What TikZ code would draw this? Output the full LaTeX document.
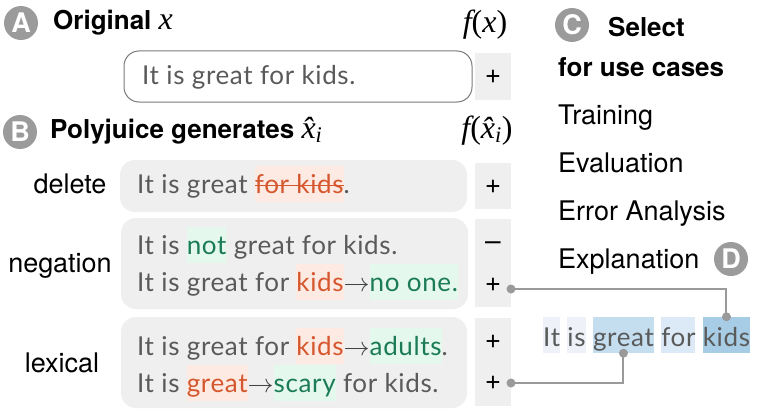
\RequirePackage{fix-cm}
\documentclass[tikz,border=0pt]{standalone}
\usepackage{fontspec}
\setmainfont{TeX Gyre Heros}
\newfontfamily\sentfont{Lato}[LetterSpace=2.5]
\newfontfamily\mathserif{Liberation Serif}
\usepackage{tikz}
\usetikzlibrary{positioning}
\usetikzlibrary{chains}
\definecolor{sentgray}{HTML}{5A5A5A}
\definecolor{boxgray}{HTML}{EFEFEF}
\definecolor{origgray}{HTML}{7A7A7A}
\definecolor{badgegray}{HTML}{9B9B9B}
\definecolor{linkgray}{HTML}{9A9A9A}
\definecolor{arrowgray}{HTML}{444444}
\definecolor{delfg}{HTML}{D5572E}
\definecolor{delbg}{HTML}{FDEAE3}
\definecolor{insfg}{HTML}{1C7B57}
\definecolor{insbg}{HTML}{E4F8EE}
\definecolor{tokpale}{HTML}{EEF2F8}
\definecolor{tokgreat}{HTML}{C4DDEF}
\definecolor{tokfor}{HTML}{DBEAF6}
\definecolor{tokkids}{HTML}{A7CCE6}
\setlength{\fboxsep}{0pt}
\newsavebox{\strikebox}
\newcommand{\strike}[1]{\sbox{\strikebox}{#1}\rlap{\rule[0.26em]{\wd\strikebox}{1.5pt}}\usebox{\strikebox}}
\newcommand{\hstrut}{\rule[-9pt]{0pt}{36pt}}
\newcommand{\del}[1]{\colorbox{delbg}{\hstrut\textcolor{delfg}{#1}}}
\newcommand{\ins}[1]{\colorbox{insbg}{\hstrut\textcolor{insfg}{#1}}}
\newcommand{\rep}{\textcolor{arrowgray}{$\rightarrow$}}
\newcommand{\mv}[1]{{\mathserif\itshape #1}}
\newcommand{\snode}[3]{\node(#1)[sentence] at (#2) {#3}}
\newcommand{\fnode}[3]{\node(#1)[sign] at (#2) {#3}}
\newcommand{\badgenode}[3]{\node(#1)[badge] at (#2) {#3}}

\begin{document}
\begin{tikzpicture}[
        x=1pt, y=-1pt,
        every node/.style={inner sep=0pt},
        title/.style={anchor=base west, font=\fontsize{26}{30}\selectfont\bfseries},
        usecase/.style={anchor=base west, font=\fontsize{27}{30}\selectfont},
        rowlabel/.style={anchor=base, font=\fontsize{27}{30}\selectfont},
        sentence/.style={anchor=base west, text=sentgray,
                         font=\sentfont\fontsize{26}{36}\selectfont},
        sign/.style={font=\fontsize{28}{30}\selectfont},
        fval/.style={anchor=base, font=\mathserif\fontsize{32}{34}\selectfont},
        badge/.style={circle, fill=badgegray, text=white, minimum size=34pt,
                      font=\fontsize{27}{28}\selectfont\bfseries},
        group/.style={fill=boxgray, rounded corners=15pt},
        signcol/.style={fill=boxgray},
        orig/.style={draw=origgray, line width=1pt, rounded corners=15pt},
        tok/.style={on chain, text=sentgray, text height=29pt, text depth=7pt,
                    font=\sentfont\fontsize{26}{36}\selectfont},
        link/.style={draw=linkgray, line width=2pt}
      ]
      \useasboundingbox (0,0) rectangle (759,412);
      % headers
      \badgenode{badgeA}{21,23}{A};
      \node(origtitle)[title] at (53,30) {Original \mv{\mdseries\fontsize{32}{34}\selectfont x}};
      \node(fx)[fval] at (485,33) {\mv{f}(\mv{x})};
      \badgenode{badgeB}{20,132}{B};
      \node(gentitle)[title] at (50,138) {Polyjuice generates \mv{\mdseries\fontsize{32}{34}\selectfont x̂\textsubscript{i}}};
      \node(fxhat)[fval] at (487,138) {\mv{f}(\mv{x̂\textsubscript{i}})};
      % original sentence
      \draw[orig] (124,51) rectangle (472,102);
      \fill[signcol] (475,53) rectangle (511,100);
      \snode{origsent}{142,84}{It is great for kids.};
      \fnode{origsign}{493,77}{+};
      % generated counterfactuals
      \fill[group] (120,160) rectangle (467,212);
      \fill[group] (121,218) rectangle (468,309);
      \fill[group] (121,317) rectangle (467,408);
      \fill[signcol] (475,163) rectangle (511,209);
      \fill[signcol] (475,219) rectangle (511,307);
      \fill[signcol] (475,318) rectangle (511,406);
      \node(dellabel)[rowlabel] at (70,193) {delete};
      \node(neglabel)[rowlabel] at (60,272) {negation};
      \node(lexlabel)[rowlabel] at (62,372) {lexical};
      \snode{delsent}{137,193}{It is great \del{\strike{for kids}}.};
      \snode{negsentA}{137,254}{It is \ins{not} great for kids.};
      \snode{negsentB}{137,291}{It is great for \del{kids}\rep\ins{no one.}};
      \snode{lexsentA}{137,355}{It is great for \del{kids}\rep\ins{adults}.};
      \snode{lexsentB}{137,392}{It is \del{great}\rep\ins{scary} for kids.};
      \fnode{delsign}{493,187}{+};
      \fnode{negsignA}{493,246}{--};
      \fnode{negsignB}{493,285}{+};
      \fnode{lexsignA}{493,342}{+};
      \fnode{lexsignB}{493,383}{+};
      % use cases
      \badgenode{badgeC}{572,25}{C};
      \node(selecttitle)[title] at (608,37) {Select};
      \node(usetitle)[title] at (558,76) {for use cases};
      \node(training)[usecase] at (558,124) {Training};
      \node(evaluation)[usecase] at (558,172) {Evaluation};
      \node(erroranalysis)[usecase] at (558,220) {Error Analysis};
      \node(explanation)[usecase] at (558,268) {Explanation};
      \badgenode{badgeD}{731,259}{D};
      % token weights
      \begin{scope}[start chain=going right, node distance=7pt]
        \node(tokit)[tok, fill=tokpale, anchor=west] at (543,335) {It};
        \node(tokis)[tok, fill=tokpale] {is};
        \node(tokgreat)[tok, fill=tokgreat] {great};
        \node(tokfor)[tok, fill=tokfor] {for};
        \node(tokkids)[tok, fill=tokkids] {kids};
      \end{scope}
      \coordinate (negdot) at (511,289);
      \coordinate (lexdot) at (511,383);
      \draw[link] (negdot) -| (tokkids.north);
      \draw[link] (lexdot) -| (tokgreat.south);
      \fill[linkgray] (negdot) circle (4.5pt) (tokkids.north) circle (4.5pt);
      \fill[linkgray] (lexdot) circle (4.5pt) (tokgreat.south) circle (4.5pt);
    \end{tikzpicture}
\end{document}
